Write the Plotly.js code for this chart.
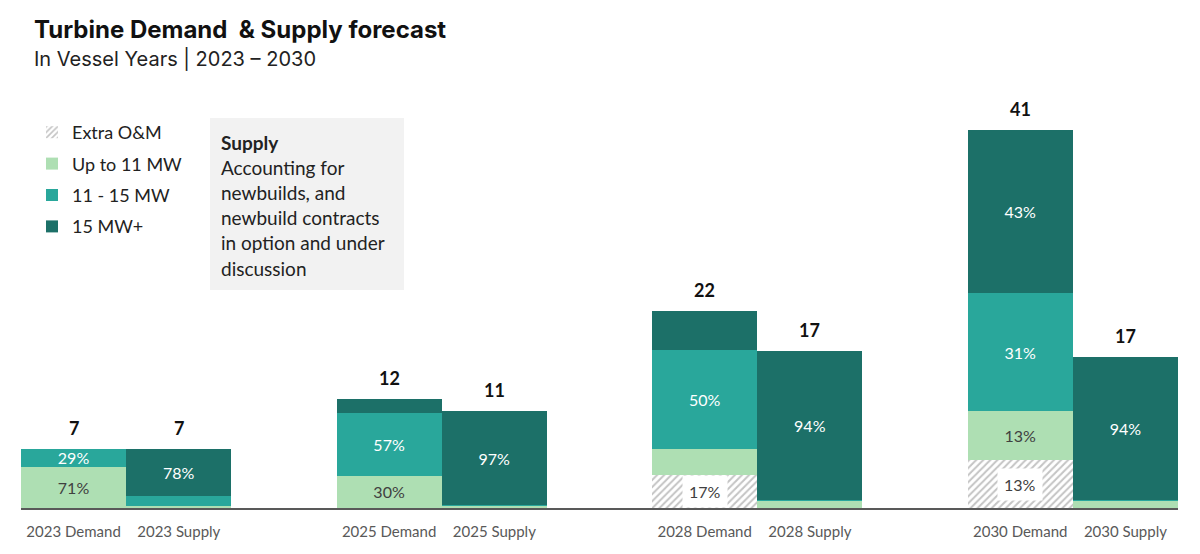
<!DOCTYPE html>
<html>
<head>
<meta charset="utf-8">
<script src="https://cdn.plot.ly/plotly-3.0.1.min.js"></script>
<style>
  html, body { margin:0; padding:0; background:#fff; }
  #chart { width:1200px; height:554px; outline:2px solid #d9d9d9; outline-offset:-2px; }
</style>
</head>
<body>
<div id="chart"></div>
<script>
// Turbine demand & supply - vessel years, stacked by turbine size

const categories = ['2023 Demand','2023 Supply','2025 Demand','2025 Supply','2028 Demand','2028 Supply','2030 Demand','2030 Supply'];
const extraOM   = [0,   0,   0,   0,    3.6, 0,    5.2,  0];
const upTo11    = [4.5, 0.2, 3.5, 0.2,  2.8, 0.8,  5.3,  0.8];
const mw11to15  = [1.9, 1.1, 6.8, 0.1,  10.8,0.1,  12.9, 0.1];
const mw15plus  = [0,   5.1, 1.6, 10.2, 4.2, 16.2, 17.7, 15.5];
const totalLabels = ['7','7','12','11','22','17','41','17'];

const omPct       = ['','','','','17%','','13%',''];
const upTo11Pct   = ['71%','','30%','','','','13%',''];
const mw11to15Pct = ['29%','','57%','','50%','','31%',''];
const mw15Pct     = ['','78%','','97%','','94%','43%','94%'];

const noteTitle = 'Supply';
const noteLines = ['Accounting for','newbuilds, and','newbuild contracts','in option and under','discussion'];

const LIGHT = '#aedfb3', TEAL = '#29a79b', DARK = '#1c7068';
const LABEL_FONT = 'Lato, "Open Sans", sans-serif';
const TITLE_FONT = 'Inter, Roboto, sans-serif';

// demand/supply pairs with an empty slot between years
const xPos = categories.map((c,i)=> i + Math.floor(i/2));

// plot area in pixels, used to place notes in paper coords
const L = 21, R = 22, T = 100, B = 46, W = 1200, H = 554;
const pw = W-L-R, ph = H-T-B;
const px = x => (x-L)/pw;
const py = y => (H-B-y)/ph;

function barTrace(name, y, text, marker, textColor, group){
  return {
    type:'bar', name, x:xPos, y, text, legendgroup:group,
    marker, textposition:'inside', insidetextanchor:'middle', textangle:0,
    textfont:{family:LABEL_FONT, size:16, color:textColor},
    hoverinfo:'skip', cliponaxis:false
  };
}

const traces = [
  barTrace('Extra O&M', extraOM, extraOM.map(()=>''), {
    color:'#ffffff',
    pattern:{shape:'/', fgcolor:'#c4c4c4', bgcolor:'#ffffff', size:5, solidity:0.4}
  }, '#404040', 'g1'),
  barTrace('Up to 11 MW', upTo11, upTo11Pct, {color:LIGHT}, '#404040', 'g2'),
  barTrace('11 - 15 MW', mw11to15, mw11to15Pct, {color:TEAL}, '#ffffff', 'g3'),
  barTrace('15 MW+', mw15plus, mw15Pct, {color:DARK}, '#ffffff', 'g4')
];

const totals = categories.map((c,i)=> extraOM[i]+upTo11[i]+mw11to15[i]+mw15plus[i]);

const annotations = [];
totals.forEach((t,i)=>{
  annotations.push({
    x:xPos[i], y:t, xref:'x', yref:'y', text:'<b>'+totalLabels[i]+'</b>',
    showarrow:false, yanchor:'bottom', yshift:8,
    font:{family:LABEL_FONT, size:18, color:'#111'}
  });
});
// hatched segment labels sit in a white box
omPct.forEach((p,i)=>{
  if(!p) return;
  annotations.push({
    x:xPos[i], y:extraOM[i]/2, xref:'x', yref:'y', text:p, showarrow:false,
    bgcolor:'#ffffff', borderpad:6,
    font:{family:LABEL_FONT, size:16, color:'#404040'}
  });
});
// titles
annotations.push({
  xref:'paper', yref:'paper', x:px(32), y:py(30), xanchor:'left', yanchor:'middle',
  text:'<b>Turbine Demand  & Supply forecast</b>', showarrow:false,
  font:{family:TITLE_FONT, size:24, color:'#111'}
});
annotations.push({
  xref:'paper', yref:'paper', x:px(32), y:py(59), xanchor:'left', yanchor:'middle',
  text:'In Vessel Years | 2023 – 2030', showarrow:false,
  font:{family:TITLE_FONT, size:20, color:'#222'}
});
// supply note
[ '<b>'+noteTitle+'</b>' ].concat(noteLines).forEach((line,k)=>{
  annotations.push({
    xref:'paper', yref:'paper', x:px(219), y:py(142 + k*25.2), xanchor:'left', yanchor:'middle',
    text:line, showarrow:false, font:{family:LABEL_FONT, size:19, color:'#222'}
  });
});

const layout = {
  width:W, height:H,
  margin:{l:L, r:R, t:T, b:B},
  barmode:'stack', bargap:0,
  paper_bgcolor:'#ffffff', plot_bgcolor:'#ffffff',
  showlegend:true,
  legend:{
    x:px(32), y:py(114), xanchor:'left', yanchor:'top',
    traceorder:'grouped', tracegroupgap:5, itemwidth:30,
    font:{family:LABEL_FONT, size:18, color:'#222'},
    bgcolor:'rgba(0,0,0,0)'
  },
  uniformtext:{mode:'show', minsize:16},
  xaxis:{
    range:[-0.5, 10.5], tickvals:xPos, ticktext:categories,
    showgrid:false, zeroline:false, ticks:'',
    showline:true, linecolor:'#595959', linewidth:1.5,
    tickfont:{family:LABEL_FONT, size:15, color:'#595959'},
    ticklabelstandoff:9, fixedrange:true
  },
  yaxis:{
    range:[0, ph/9.2], showgrid:false, zeroline:false,
    showticklabels:false, showline:false, ticks:'', fixedrange:true
  },
  shapes:[{
    type:'rect', xref:'paper', yref:'paper', layer:'below',
    x0:px(210), x1:px(404), y0:py(290), y1:py(118),
    fillcolor:'#f2f2f2', line:{width:0}
  }],
  annotations
};

Plotly.newPlot('chart', traces, layout, {displayModeBar:false, staticPlot:true});
</script>
</body>
</html>
